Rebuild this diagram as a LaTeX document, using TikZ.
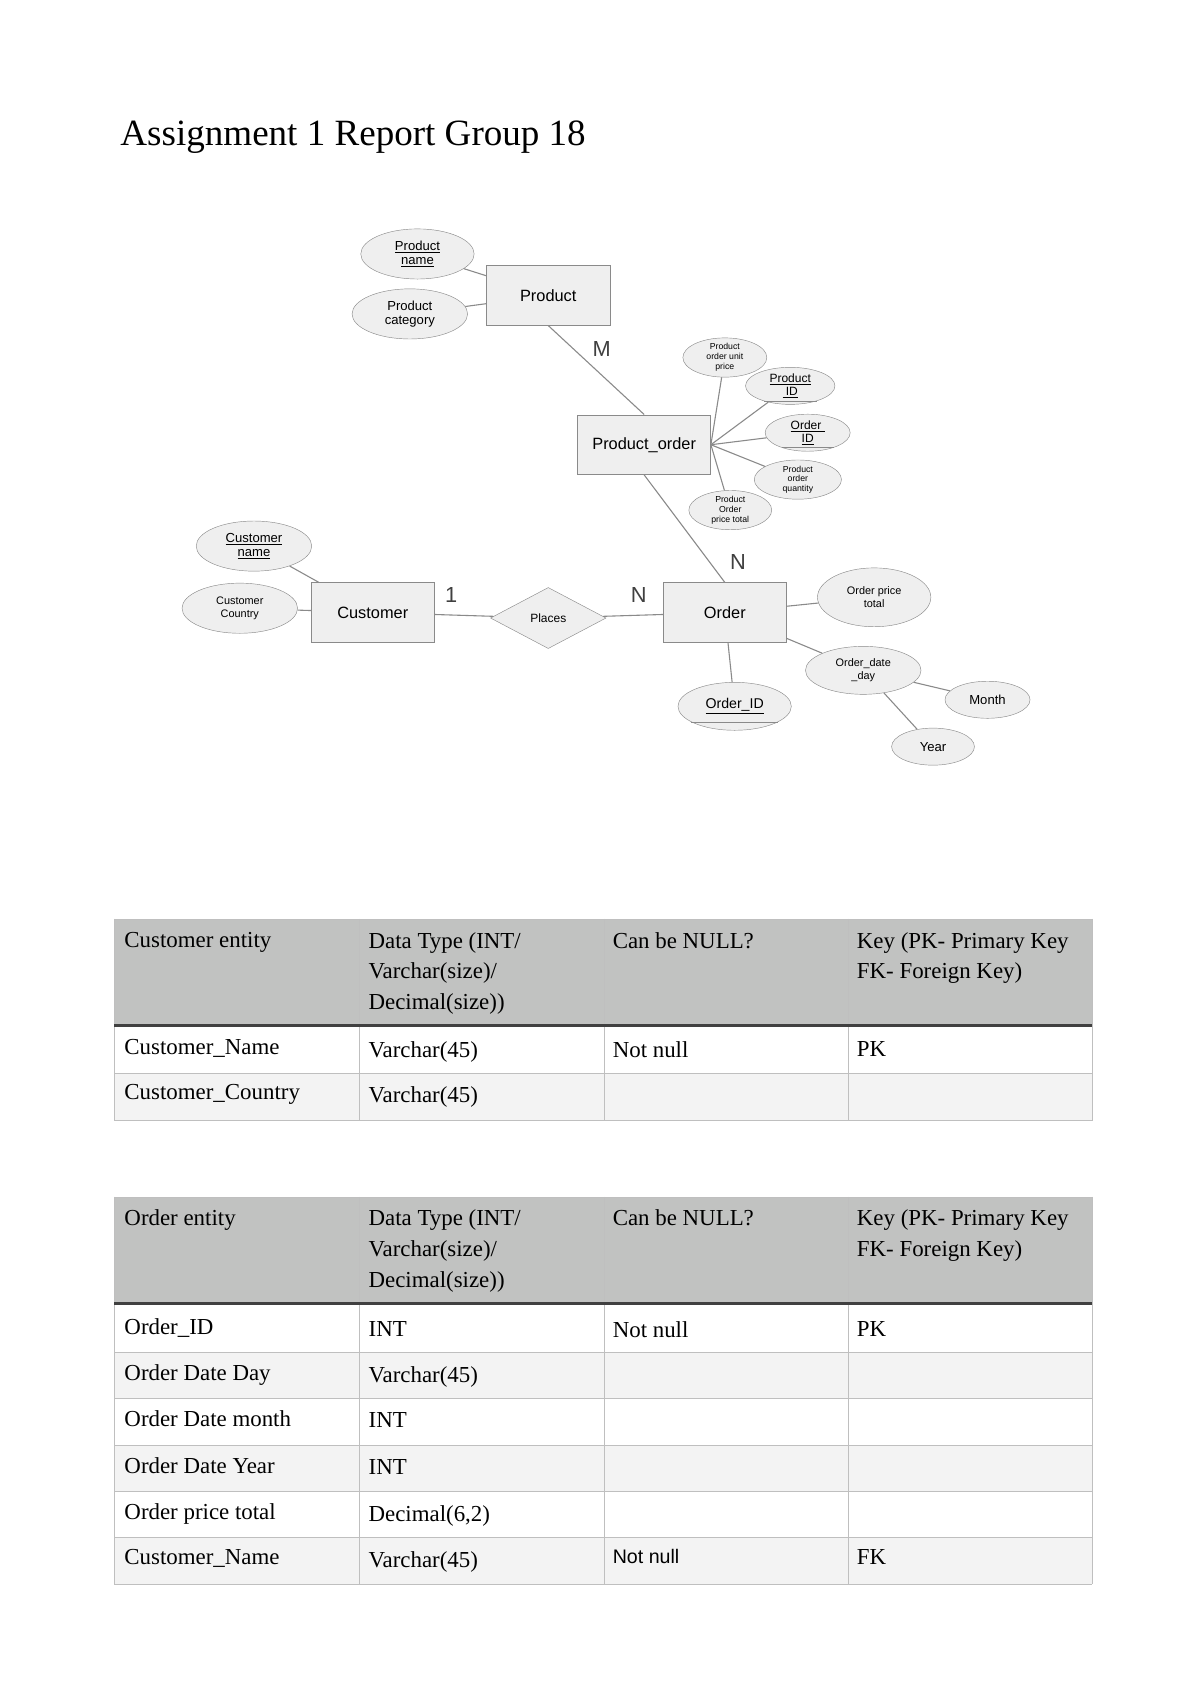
\documentclass[tikz,border=0pt]{standalone}
\usepackage{fontspec}
\setmainfont{Liberation Serif}
\setsansfont{Liberation Sans}
\usetikzlibrary{shapes,positioning}
\definecolor{boxfill}{HTML}{EFEFEF}
\definecolor{boxline}{HTML}{8A8A8A}
\definecolor{headfill}{HTML}{C1C2C1}
\definecolor{rowfill}{HTML}{F3F3F3}
\begin{document}
\begin{tikzpicture}[x=1pt,y=-1pt]
		\tikzstyle{Entity}	= [rectangle, draw=boxline, fill=boxfill, minimum width=113pt, minimum height=55pt, font=\sffamily\fontsize{15}{17}\selectfont]
		\tikzstyle{Attr}	= [ellipse, draw=boxline, fill=boxfill, inner sep=0pt, align=center, font=\sffamily\fontsize{12}{13}\selectfont]
		\tikzstyle{Tiny}	= [Attr, font=\sffamily\fontsize{8}{9}\selectfont]
		\tikzstyle{Rel}		= [diamond, draw=boxline, fill=boxfill, aspect=1.9, minimum width=106pt, minimum height=56pt, inner sep=0pt, font=\sffamily\fontsize{11}{12}\selectfont]
		\tikzstyle{Card}	= [font=\sffamily\fontsize{20}{22}\selectfont, text=black!75]
		\tikzstyle{Link}	= [boxline, line width=1pt]
		\tikzstyle{Cell}	= [anchor=north west, align=left, font=\fontsize{21}{28}\selectfont, inner sep=0pt]

		\useasboundingbox [fill=white] (0,0) rectangle (1100,1556);
		\node (title) at (107,126) [anchor=west, font=\fontsize{34}{38}\selectfont] {Assignment 1 Report Group 18};

		% entities
		\node (prod) at (503,271) [Entity] {Product};
		\node (po) at (591,408) [Entity, minimum width=122pt] {Product\_order};
		\node (cust) at (342,562) [Entity] {Customer};
		\node (ord) at (665,562) [Entity] {Order};
		\node (places) at (503,567) [Rel] {Places};

		% attributes
		\node (pname) at (383,233) [Attr, minimum width=104pt, minimum height=46pt] {\underline{Product}\\\underline{name}};
		\node (pcat) at (376,288) [Attr, minimum width=106pt, minimum height=46pt] {Product\\category};
		\node (punit) at (665,328) [Tiny, minimum width=77pt, minimum height=33pt] {Product\\order unit\\price};
		\node (pid) at (725,354) [Attr, font=\sffamily\fontsize{11}{12}\selectfont, minimum width=82pt, minimum height=34pt] {\underline{Product}\\\underline{\ ID}};
		\node (poid) at (741,397) [Attr, font=\sffamily\fontsize{11}{12}\selectfont, minimum width=78pt, minimum height=34pt] {\underline{Order\ }\\\underline{ID}};
		\node (pqty) at (732,440) [Tiny, minimum width=80pt, minimum height=34pt] {Product\\order\\quantity};
		\node (ptot) at (670,468) [Tiny, minimum width=76pt, minimum height=34pt] {Product\\Order\\price total};
		\node (cname) at (233,501) [Attr, minimum width=106pt, minimum height=46pt] {\underline{Customer}\\\underline{name}};
		\node (ccountry) at (220,558) [Attr, font=\sffamily\fontsize{10}{12}\selectfont, minimum width=106pt, minimum height=46pt] {Customer\\Country};
		\node (optot) at (802,548) [Attr, font=\sffamily\fontsize{10}{12}\selectfont, minimum width=104pt, minimum height=54pt] {Order price\\total};
		\node (odate) at (792,615) [Attr, font=\sffamily\fontsize{10}{12}\selectfont, minimum width=106pt, minimum height=44pt] {Order\_date\\\_day};
		\node (month) at (906,642) [Attr, minimum width=78pt, minimum height=34pt] {Month};
		\node (year) at (856,685) [Attr, minimum width=76pt, minimum height=34pt] {Year};
		\node (oid) at (674,648) [Attr, font=\sffamily\fontsize{13}{15}\selectfont, minimum width=104pt, minimum height=44pt] {\underline{Order\_ID}};

		% key chords
		\draw [Link] (pid.-150) to (pid.-30);
		\draw [Link] (poid.-150) to (poid.-30);
		\draw [Link] (oid.-160) to (oid.-20);

		% cardinalities
		\node (cm) at (552,320) [Card] {M};
		\node (cn1) at (677,516) [Card] {N};
		\node (c1) at (414,546) [Card] {1};
		\node (cn2) at (586,546) [Card] {N};

		% links
		\draw [Link] (pname) to (prod);
		\draw [Link] (pcat) to (prod);
		\draw [Link] (prod.south) to (po.north);
		\foreach \a in {punit,pid,poid,pqty,ptot}
			\draw [Link] (po.east) to (\a);
		\draw [Link] (po.south) to (ord.north);
		\draw [Link] (cust) to (places);
		\draw [Link] (places) to (ord);
		\draw [Link] (cname) to (cust);
		\draw [Link] (ccountry) to (cust);
		\draw [Link] (ord) to (optot);
		\draw [Link] (ord) to (odate);
		\draw [Link] (ord) to (oid);
		\draw [Link] (odate) to (month);
		\draw [Link] (odate) to (year);

		% table 1
		\fill [headfill] (105,843) rectangle (1002,941);
		\fill [rowfill] (105,985) rectangle (1002,1028);
		\foreach \y in {843,985,1028}
			\draw [black!25] (105,\y) to (1002,\y);
		\foreach \x in {105,330,554,778,1002}
			\draw [black!25] (\x,843) to (\x,1028);
		\draw [black!75, line width=2.5pt] (105,941) to (1002,941);
		\node (ta1) at (114,855) [Cell] {Customer entity};
		\node (ta2) at (338,855) [Cell] {Data Type (INT/\\Varchar(size)/\\Decimal(size))};
		\node (ta3) at (562,855) [Cell] {Can be NULL?};
		\node (ta4) at (786,855) [Cell] {Key (PK- Primary Key\\FK- Foreign Key)};
		\node (ta5) at (114,953) [Cell] {Customer\_Name};
		\node (ta6) at (338,955) [Cell] {Varchar(45)};
		\node (ta7) at (562,955) [Cell] {Not null};
		\node (ta8) at (786,955) [Cell] {PK};
		\node (ta9) at (114,995) [Cell] {Customer\_Country};
		\node (ta10) at (338,997) [Cell] {Varchar(45)};

		% table 2
		\fill [headfill] (105,1098) rectangle (1002,1196);
		\foreach \t/\b in {1241/1283,1326/1368,1410/1453}
			\fill [rowfill] (105,\t) rectangle (1002,\b);
		\foreach \y in {1098,1241,1283,1326,1368,1410,1453}
			\draw [black!25] (105,\y) to (1002,\y);
		\foreach \x in {105,330,554,778,1002}
			\draw [black!25] (\x,1098) to (\x,1453);
		\draw [black!75, line width=2.5pt] (105,1196) to (1002,1196);
		\node (tb1) at (114,1110) [Cell] {Order entity};
		\node (tb2) at (338,1110) [Cell] {Data Type (INT/\\Varchar(size)/\\Decimal(size))};
		\node (tb3) at (562,1110) [Cell] {Can be NULL?};
		\node (tb4) at (786,1110) [Cell] {Key (PK- Primary Key\\FK- Foreign Key)};
		\foreach \y/\n/\d in {1210/Order\_ID/INT, 1252/Order Date Day/Varchar(45), 1294/Order Date month/INT, 1337/Order Date Year/INT, 1379/Order price total/{Decimal(6,2)}, 1421/Customer\_Name/Varchar(45)}
		{
			\node (n\y) at (114,\y) [Cell] {\n};
			\node (d\y) at (338,\y+2) [Cell] {\d};
		}
		\node (tb5) at (562,1212) [Cell] {Not null};
		\node (tb6) at (786,1212) [Cell] {PK};
		\node (tb7) at (562,1421) [Cell, font=\sffamily\fontsize{18}{22}\selectfont] {Not null};
		\node (tb8) at (786,1421) [Cell] {FK};
\end{tikzpicture}
\end{document}
